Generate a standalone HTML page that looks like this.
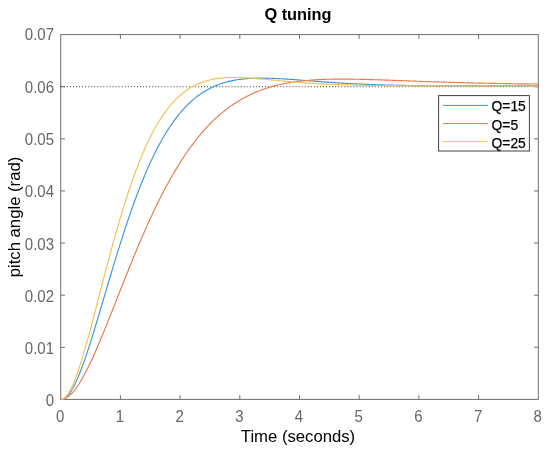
<!DOCTYPE html>
<html><head><meta charset="utf-8"><title>Q tuning</title>
<style>
html,body{margin:0;padding:0;background:#fff;}
body{width:550px;height:450px;overflow:hidden;}
svg{display:block;font-family:"Liberation Sans",sans-serif;}
.tk{font-size:15px;fill:#666666;}
.lb{font-size:16.7px;fill:#000;}
.lg{font-size:13.85px;fill:#000;stroke:#000;stroke-width:0.25px;}
</style></head><body>
<svg width="550" height="450" viewBox="0 0 550 450">
<rect x="0" y="0" width="550" height="450" fill="#ffffff"/>
<rect x="60.7" y="34.6" width="477.60" height="364.80" fill="none" stroke="#6e6e6e" stroke-width="1"/>
<path d="M120.40,399.4 v-4.3 M120.40,34.6 v4.3 M180.10,399.4 v-4.3 M180.10,34.6 v4.3 M239.80,399.4 v-4.3 M239.80,34.6 v4.3 M299.50,399.4 v-4.3 M299.50,34.6 v4.3 M359.20,399.4 v-4.3 M359.20,34.6 v4.3 M418.90,399.4 v-4.3 M418.90,34.6 v4.3 M478.60,399.4 v-4.3 M478.60,34.6 v4.3 M60.7,347.29 h4.3 M538.3,347.29 h-4.3 M60.7,295.17 h4.3 M538.3,295.17 h-4.3 M60.7,243.06 h4.3 M538.3,243.06 h-4.3 M60.7,190.94 h4.3 M538.3,190.94 h-4.3 M60.7,138.83 h4.3 M538.3,138.83 h-4.3 M60.7,86.71 h4.3 M538.3,86.71 h-4.3" stroke="#6e6e6e" stroke-width="1" fill="none"/>
<line x1="60.7" y1="86.71" x2="538.3" y2="86.71" stroke="#3a3a3a" stroke-width="1" stroke-dasharray="1 2.05"/>
<clipPath id="c"><rect x="60.2" y="34.1" width="478.59999999999997" height="365.79999999999995"/></clipPath>
<g fill="none" stroke-width="1.15" stroke-linejoin="round" clip-path="url(#c)">
<path d="M60.70,399.40 L61.89,399.35 L63.09,399.08 L64.28,398.57 L65.48,397.80 L66.67,396.79 L67.86,395.54 L69.06,394.09 L70.25,392.42 L71.45,390.56 L72.64,388.52 L73.83,386.30 L75.03,383.92 L76.22,381.38 L77.42,378.70 L78.61,375.89 L79.80,372.95 L81.00,369.89 L82.19,366.72 L83.39,363.45 L84.58,360.08 L85.77,356.63 L86.97,353.10 L88.16,349.49 L89.36,345.82 L90.55,342.09 L91.74,338.30 L92.94,334.47 L94.13,330.59 L95.33,326.68 L96.52,322.73 L97.71,318.76 L98.91,314.77 L100.10,310.75 L101.30,306.73 L102.49,302.69 L103.68,298.65 L104.88,294.61 L106.07,290.57 L107.27,286.53 L108.46,282.51 L109.65,278.49 L110.85,274.49 L112.04,270.51 L113.24,266.55 L114.43,262.61 L115.62,258.69 L116.82,254.80 L118.01,250.94 L119.21,247.12 L120.40,243.32 L121.59,239.57 L122.79,235.84 L123.98,232.16 L125.18,228.52 L126.37,224.92 L127.56,221.35 L128.76,217.84 L129.95,214.37 L131.15,210.94 L132.34,207.56 L133.53,204.22 L134.73,200.94 L135.92,197.70 L137.12,194.51 L138.31,191.37 L139.50,188.28 L140.70,185.24 L141.89,182.26 L143.09,179.32 L144.28,176.43 L145.47,173.60 L146.67,170.82 L147.86,168.09 L149.06,165.41 L150.25,162.78 L151.44,160.20 L152.64,157.68 L153.83,155.20 L155.03,152.78 L156.22,150.40 L157.41,148.08 L158.61,145.81 L159.80,143.59 L161.00,141.41 L162.19,139.29 L163.38,137.21 L164.58,135.19 L165.77,133.21 L166.97,131.28 L168.16,129.39 L169.35,127.55 L170.55,125.76 L171.74,124.01 L172.94,122.31 L174.13,120.65 L175.32,119.04 L176.52,117.46 L177.71,115.93 L178.91,114.45 L180.10,113.00 L181.29,111.59 L182.49,110.23 L183.68,108.90 L184.88,107.61 L186.07,106.36 L187.26,105.15 L188.46,103.98 L189.65,102.84 L190.85,101.73 L192.04,100.66 L193.23,99.63 L194.43,98.63 L195.62,97.66 L196.82,96.72 L198.01,95.82 L199.20,94.94 L200.40,94.10 L201.59,93.29 L202.79,92.50 L203.98,91.75 L205.17,91.02 L206.37,90.32 L207.56,89.64 L208.76,88.99 L209.95,88.37 L211.14,87.77 L212.34,87.20 L213.53,86.65 L214.73,86.12 L215.92,85.61 L217.11,85.13 L218.31,84.67 L219.50,84.22 L220.70,83.80 L221.89,83.40 L223.08,83.02 L224.28,82.65 L225.47,82.31 L226.67,81.98 L227.86,81.67 L229.05,81.37 L230.25,81.09 L231.44,80.83 L232.64,80.58 L233.83,80.35 L235.02,80.13 L236.22,79.93 L237.41,79.73 L238.61,79.55 L239.80,79.39 L240.99,79.23 L242.19,79.09 L243.38,78.96 L244.58,78.84 L245.77,78.73 L246.96,78.63 L248.16,78.54 L249.35,78.46 L250.55,78.39 L251.74,78.33 L252.93,78.27 L254.13,78.23 L255.32,78.19 L256.52,78.16 L257.71,78.14 L258.90,78.12 L260.10,78.11 L261.29,78.11 L262.49,78.11 L263.68,78.12 L264.87,78.13 L266.07,78.15 L267.26,78.18 L268.46,78.21 L269.65,78.24 L270.84,78.28 L272.04,78.32 L273.23,78.37 L274.43,78.42 L275.62,78.47 L276.81,78.53 L278.01,78.59 L279.20,78.65 L280.40,78.72 L281.59,78.79 L282.78,78.86 L283.98,78.93 L285.17,79.01 L286.37,79.08 L287.56,79.16 L288.75,79.25 L289.95,79.33 L291.14,79.41 L292.34,79.50 L293.53,79.58 L294.72,79.67 L295.92,79.76 L297.11,79.85 L298.31,79.94 L299.50,80.03 L300.69,80.12 L301.89,80.21 L303.08,80.30 L304.28,80.40 L305.47,80.49 L306.66,80.58 L307.86,80.67 L309.05,80.77 L310.25,80.86 L311.44,80.95 L312.63,81.04 L313.83,81.13 L315.02,81.23 L316.22,81.32 L317.41,81.41 L318.60,81.50 L319.80,81.59 L320.99,81.67 L322.19,81.76 L323.38,81.85 L324.57,81.94 L325.77,82.02 L326.96,82.11 L328.16,82.19 L329.35,82.27 L330.54,82.36 L331.74,82.44 L332.93,82.52 L334.13,82.60 L335.32,82.67 L336.51,82.75 L337.71,82.83 L338.90,82.90 L340.10,82.98 L341.29,83.05 L342.48,83.12 L343.68,83.19 L344.87,83.26 L346.07,83.33 L347.26,83.40 L348.45,83.47 L349.65,83.53 L350.84,83.60 L352.04,83.66 L353.23,83.72 L354.42,83.78 L355.62,83.84 L356.81,83.90 L358.01,83.96 L359.20,84.02 L360.39,84.07 L361.59,84.13 L362.78,84.18 L363.98,84.23 L365.17,84.28 L366.36,84.33 L367.56,84.38 L368.75,84.43 L369.95,84.48 L371.14,84.52 L372.33,84.57 L373.53,84.61 L374.72,84.65 L375.92,84.70 L377.11,84.74 L378.30,84.78 L379.50,84.82 L380.69,84.85 L381.89,84.89 L383.08,84.93 L384.27,84.96 L385.47,85.00 L386.66,85.03 L387.86,85.06 L389.05,85.09 L390.24,85.12 L391.44,85.15 L392.63,85.18 L393.83,85.21 L395.02,85.24 L396.21,85.26 L397.41,85.29 L398.60,85.32 L399.80,85.34 L400.99,85.36 L402.18,85.39 L403.38,85.41 L404.57,85.43 L405.77,85.45 L406.96,85.47 L408.15,85.49 L409.35,85.51 L410.54,85.53 L411.74,85.54 L412.93,85.56 L414.12,85.58 L415.32,85.59 L416.51,85.61 L417.71,85.62 L418.90,85.64 L420.09,85.65 L421.29,85.66 L422.48,85.68 L423.68,85.69 L424.87,85.70 L426.06,85.71 L427.26,85.72 L428.45,85.73 L429.65,85.74 L430.84,85.75 L432.03,85.76 L433.23,85.77 L434.42,85.78 L435.62,85.79 L436.81,85.79 L438.00,85.80 L439.20,85.81 L440.39,85.81 L441.59,85.82 L442.78,85.83 L443.97,85.83 L445.17,85.84 L446.36,85.84 L447.56,85.85 L448.75,85.85 L449.94,85.86 L451.14,85.86 L452.33,85.86 L453.53,85.87 L454.72,85.87 L455.91,85.87 L457.11,85.87 L458.30,85.88 L459.50,85.88 L460.69,85.88 L461.88,85.88 L463.08,85.89 L464.27,85.89 L465.47,85.89 L466.66,85.89 L467.85,85.89 L469.05,85.89 L470.24,85.89 L471.44,85.89 L472.63,85.89 L473.82,85.89 L475.02,85.89 L476.21,85.89 L477.41,85.89 L478.60,85.89 L479.79,85.89 L480.99,85.89 L482.18,85.89 L483.38,85.89 L484.57,85.89 L485.76,85.89 L486.96,85.89 L488.15,85.89 L489.35,85.89 L490.54,85.89 L491.73,85.89 L492.93,85.89 L494.12,85.89 L495.32,85.88 L496.51,85.88 L497.70,85.88 L498.90,85.88 L500.09,85.88 L501.29,85.88 L502.48,85.88 L503.67,85.88 L504.87,85.87 L506.06,85.87 L507.26,85.87 L508.45,85.87 L509.64,85.87 L510.84,85.87 L512.03,85.87 L513.23,85.86 L514.42,85.86 L515.61,85.86 L516.81,85.86 L518.00,85.86 L519.20,85.86 L520.39,85.85 L521.58,85.85 L522.78,85.85 L523.97,85.85 L525.17,85.85 L526.36,85.85 L527.55,85.84 L528.75,85.84 L529.94,85.84 L531.14,85.84 L532.33,85.84 L533.52,85.84 L534.72,85.84 L535.91,85.83 L537.11,85.83 L538.30,85.83" stroke="#3A96DB"/>
<path d="M60.70,399.40 L61.89,399.35 L63.09,399.16 L64.28,398.81 L65.48,398.31 L66.67,397.67 L67.86,396.89 L69.06,395.97 L70.25,394.93 L71.45,393.77 L72.64,392.49 L73.83,391.10 L75.03,389.60 L76.22,388.00 L77.42,386.30 L78.61,384.51 L79.80,382.62 L81.00,380.66 L82.19,378.61 L83.39,376.48 L84.58,374.29 L85.77,372.02 L86.97,369.69 L88.16,367.29 L89.36,364.84 L90.55,362.34 L91.74,359.78 L92.94,357.17 L94.13,354.52 L95.33,351.83 L96.52,349.10 L97.71,346.33 L98.91,343.52 L100.10,340.69 L101.30,337.83 L102.49,334.94 L103.68,332.03 L104.88,329.10 L106.07,326.14 L107.27,323.18 L108.46,320.19 L109.65,317.20 L110.85,314.19 L112.04,311.18 L113.24,308.16 L114.43,305.14 L115.62,302.11 L116.82,299.08 L118.01,296.05 L119.21,293.02 L120.40,290.00 L121.59,286.98 L122.79,283.96 L123.98,280.95 L125.18,277.96 L126.37,274.97 L127.56,271.99 L128.76,269.03 L129.95,266.07 L131.15,263.14 L132.34,260.21 L133.53,257.31 L134.73,254.42 L135.92,251.54 L137.12,248.69 L138.31,245.86 L139.50,243.04 L140.70,240.25 L141.89,237.48 L143.09,234.73 L144.28,232.01 L145.47,229.30 L146.67,226.63 L147.86,223.97 L149.06,221.34 L150.25,218.74 L151.44,216.16 L152.64,213.61 L153.83,211.08 L155.03,208.58 L156.22,206.11 L157.41,203.66 L158.61,201.25 L159.80,198.86 L161.00,196.49 L162.19,194.16 L163.38,191.85 L164.58,189.58 L165.77,187.33 L166.97,185.11 L168.16,182.92 L169.35,180.76 L170.55,178.62 L171.74,176.52 L172.94,174.44 L174.13,172.40 L175.32,170.38 L176.52,168.39 L177.71,166.43 L178.91,164.50 L180.10,162.60 L181.29,160.73 L182.49,158.88 L183.68,157.06 L184.88,155.28 L186.07,153.52 L187.26,151.78 L188.46,150.08 L189.65,148.41 L190.85,146.76 L192.04,145.14 L193.23,143.54 L194.43,141.98 L195.62,140.44 L196.82,138.92 L198.01,137.44 L199.20,135.98 L200.40,134.54 L201.59,133.13 L202.79,131.75 L203.98,130.39 L205.17,129.06 L206.37,127.76 L207.56,126.47 L208.76,125.22 L209.95,123.98 L211.14,122.77 L212.34,121.59 L213.53,120.42 L214.73,119.29 L215.92,118.17 L217.11,117.07 L218.31,116.00 L219.50,114.95 L220.70,113.93 L221.89,112.92 L223.08,111.94 L224.28,110.97 L225.47,110.03 L226.67,109.11 L227.86,108.20 L229.05,107.32 L230.25,106.46 L231.44,105.62 L232.64,104.79 L233.83,103.99 L235.02,103.20 L236.22,102.43 L237.41,101.68 L238.61,100.95 L239.80,100.23 L240.99,99.53 L242.19,98.85 L243.38,98.19 L244.58,97.54 L245.77,96.91 L246.96,96.29 L248.16,95.69 L249.35,95.10 L250.55,94.53 L251.74,93.98 L252.93,93.44 L254.13,92.91 L255.32,92.40 L256.52,91.90 L257.71,91.41 L258.90,90.94 L260.10,90.48 L261.29,90.04 L262.49,89.60 L263.68,89.18 L264.87,88.77 L266.07,88.38 L267.26,87.99 L268.46,87.62 L269.65,87.26 L270.84,86.90 L272.04,86.56 L273.23,86.23 L274.43,85.91 L275.62,85.60 L276.81,85.30 L278.01,85.01 L279.20,84.73 L280.40,84.46 L281.59,84.20 L282.78,83.94 L283.98,83.70 L285.17,83.46 L286.37,83.24 L287.56,83.02 L288.75,82.81 L289.95,82.60 L291.14,82.41 L292.34,82.22 L293.53,82.04 L294.72,81.86 L295.92,81.69 L297.11,81.53 L298.31,81.38 L299.50,81.23 L300.69,81.09 L301.89,80.96 L303.08,80.83 L304.28,80.71 L305.47,80.59 L306.66,80.48 L307.86,80.37 L309.05,80.27 L310.25,80.17 L311.44,80.08 L312.63,80.00 L313.83,79.92 L315.02,79.84 L316.22,79.77 L317.41,79.70 L318.60,79.64 L319.80,79.58 L320.99,79.52 L322.19,79.47 L323.38,79.42 L324.57,79.38 L325.77,79.34 L326.96,79.30 L328.16,79.27 L329.35,79.24 L330.54,79.21 L331.74,79.19 L332.93,79.17 L334.13,79.15 L335.32,79.13 L336.51,79.12 L337.71,79.11 L338.90,79.10 L340.10,79.10 L341.29,79.10 L342.48,79.10 L343.68,79.10 L344.87,79.10 L346.07,79.11 L347.26,79.12 L348.45,79.13 L349.65,79.14 L350.84,79.15 L352.04,79.17 L353.23,79.18 L354.42,79.20 L355.62,79.22 L356.81,79.24 L358.01,79.27 L359.20,79.29 L360.39,79.32 L361.59,79.34 L362.78,79.37 L363.98,79.40 L365.17,79.43 L366.36,79.46 L367.56,79.49 L368.75,79.53 L369.95,79.56 L371.14,79.59 L372.33,79.63 L373.53,79.67 L374.72,79.70 L375.92,79.74 L377.11,79.78 L378.30,79.82 L379.50,79.86 L380.69,79.90 L381.89,79.94 L383.08,79.98 L384.27,80.02 L385.47,80.06 L386.66,80.10 L387.86,80.15 L389.05,80.19 L390.24,80.23 L391.44,80.27 L392.63,80.32 L393.83,80.36 L395.02,80.41 L396.21,80.45 L397.41,80.49 L398.60,80.54 L399.80,80.58 L400.99,80.63 L402.18,80.67 L403.38,80.71 L404.57,80.76 L405.77,80.80 L406.96,80.85 L408.15,80.89 L409.35,80.94 L410.54,80.98 L411.74,81.02 L412.93,81.07 L414.12,81.11 L415.32,81.16 L416.51,81.20 L417.71,81.24 L418.90,81.28 L420.09,81.33 L421.29,81.37 L422.48,81.41 L423.68,81.45 L424.87,81.50 L426.06,81.54 L427.26,81.58 L428.45,81.62 L429.65,81.66 L430.84,81.70 L432.03,81.74 L433.23,81.78 L434.42,81.82 L435.62,81.86 L436.81,81.90 L438.00,81.94 L439.20,81.98 L440.39,82.02 L441.59,82.06 L442.78,82.09 L443.97,82.13 L445.17,82.17 L446.36,82.21 L447.56,82.24 L448.75,82.28 L449.94,82.31 L451.14,82.35 L452.33,82.38 L453.53,82.42 L454.72,82.45 L455.91,82.49 L457.11,82.52 L458.30,82.55 L459.50,82.59 L460.69,82.62 L461.88,82.65 L463.08,82.68 L464.27,82.72 L465.47,82.75 L466.66,82.78 L467.85,82.81 L469.05,82.84 L470.24,82.87 L471.44,82.90 L472.63,82.93 L473.82,82.96 L475.02,82.99 L476.21,83.01 L477.41,83.04 L478.60,83.07 L479.79,83.10 L480.99,83.12 L482.18,83.15 L483.38,83.18 L484.57,83.20 L485.76,83.23 L486.96,83.25 L488.15,83.28 L489.35,83.30 L490.54,83.33 L491.73,83.35 L492.93,83.37 L494.12,83.40 L495.32,83.42 L496.51,83.44 L497.70,83.47 L498.90,83.49 L500.09,83.51 L501.29,83.53 L502.48,83.55 L503.67,83.57 L504.87,83.59 L506.06,83.62 L507.26,83.64 L508.45,83.66 L509.64,83.68 L510.84,83.69 L512.03,83.71 L513.23,83.73 L514.42,83.75 L515.61,83.77 L516.81,83.79 L518.00,83.81 L519.20,83.82 L520.39,83.84 L521.58,83.86 L522.78,83.87 L523.97,83.89 L525.17,83.91 L526.36,83.92 L527.55,83.94 L528.75,83.96 L529.94,83.97 L531.14,83.99 L532.33,84.00 L533.52,84.02 L534.72,84.03 L535.91,84.05 L537.11,84.06 L538.30,84.08" stroke="#E57C4E"/>
<path d="M60.70,399.40 L61.89,399.30 L63.09,398.89 L64.28,398.15 L65.48,397.11 L66.67,395.77 L67.86,394.15 L69.06,392.27 L70.25,390.14 L71.45,387.78 L72.64,385.21 L73.83,382.43 L75.03,379.46 L76.22,376.32 L77.42,373.01 L78.61,369.54 L79.80,365.94 L81.00,362.21 L82.19,358.35 L83.39,354.39 L84.58,350.33 L85.77,346.18 L86.97,341.95 L88.16,337.65 L89.36,333.28 L90.55,328.86 L91.74,324.39 L92.94,319.88 L94.13,315.34 L95.33,310.77 L96.52,306.18 L97.71,301.58 L98.91,296.97 L100.10,292.35 L101.30,287.74 L102.49,283.14 L103.68,278.55 L104.88,273.97 L106.07,269.42 L107.27,264.89 L108.46,260.39 L109.65,255.92 L110.85,251.49 L112.04,247.10 L113.24,242.75 L114.43,238.44 L115.62,234.18 L116.82,229.97 L118.01,225.81 L119.21,221.70 L120.40,217.65 L121.59,213.66 L122.79,209.72 L123.98,205.85 L125.18,202.03 L126.37,198.28 L127.56,194.59 L128.76,190.97 L129.95,187.41 L131.15,183.92 L132.34,180.49 L133.53,177.13 L134.73,173.84 L135.92,170.61 L137.12,167.45 L138.31,164.36 L139.50,161.34 L140.70,158.38 L141.89,155.50 L143.09,152.68 L144.28,149.92 L145.47,147.23 L146.67,144.61 L147.86,142.06 L149.06,139.57 L150.25,137.14 L151.44,134.78 L152.64,132.48 L153.83,130.25 L155.03,128.08 L156.22,125.97 L157.41,123.92 L158.61,121.93 L159.80,120.00 L161.00,118.12 L162.19,116.31 L163.38,114.55 L164.58,112.85 L165.77,111.20 L166.97,109.61 L168.16,108.06 L169.35,106.57 L170.55,105.14 L171.74,103.75 L172.94,102.41 L174.13,101.12 L175.32,99.87 L176.52,98.67 L177.71,97.52 L178.91,96.41 L180.10,95.34 L181.29,94.32 L182.49,93.34 L183.68,92.39 L184.88,91.49 L186.07,90.62 L187.26,89.79 L188.46,89.00 L189.65,88.24 L190.85,87.52 L192.04,86.83 L193.23,86.18 L194.43,85.55 L195.62,84.96 L196.82,84.39 L198.01,83.86 L199.20,83.35 L200.40,82.87 L201.59,82.41 L202.79,81.99 L203.98,81.58 L205.17,81.20 L206.37,80.85 L207.56,80.51 L208.76,80.20 L209.95,79.91 L211.14,79.64 L212.34,79.39 L213.53,79.15 L214.73,78.94 L215.92,78.74 L217.11,78.56 L218.31,78.40 L219.50,78.25 L220.70,78.11 L221.89,77.99 L223.08,77.89 L224.28,77.80 L225.47,77.72 L226.67,77.65 L227.86,77.59 L229.05,77.55 L230.25,77.51 L231.44,77.49 L232.64,77.47 L233.83,77.46 L235.02,77.47 L236.22,77.48 L237.41,77.50 L238.61,77.52 L239.80,77.55 L240.99,77.59 L242.19,77.64 L243.38,77.69 L244.58,77.75 L245.77,77.81 L246.96,77.88 L248.16,77.95 L249.35,78.03 L250.55,78.11 L251.74,78.19 L252.93,78.28 L254.13,78.37 L255.32,78.46 L256.52,78.56 L257.71,78.66 L258.90,78.76 L260.10,78.86 L261.29,78.96 L262.49,79.07 L263.68,79.18 L264.87,79.29 L266.07,79.40 L267.26,79.51 L268.46,79.62 L269.65,79.73 L270.84,79.84 L272.04,79.95 L273.23,80.07 L274.43,80.18 L275.62,80.29 L276.81,80.40 L278.01,80.52 L279.20,80.63 L280.40,80.74 L281.59,80.85 L282.78,80.96 L283.98,81.07 L285.17,81.18 L286.37,81.28 L287.56,81.39 L288.75,81.49 L289.95,81.60 L291.14,81.70 L292.34,81.80 L293.53,81.90 L294.72,82.00 L295.92,82.10 L297.11,82.20 L298.31,82.29 L299.50,82.39 L300.69,82.48 L301.89,82.57 L303.08,82.66 L304.28,82.75 L305.47,82.83 L306.66,82.92 L307.86,83.00 L309.05,83.08 L310.25,83.16 L311.44,83.24 L312.63,83.32 L313.83,83.39 L315.02,83.47 L316.22,83.54 L317.41,83.61 L318.60,83.68 L319.80,83.74 L320.99,83.81 L322.19,83.88 L323.38,83.94 L324.57,84.00 L325.77,84.06 L326.96,84.12 L328.16,84.18 L329.35,84.23 L330.54,84.29 L331.74,84.34 L332.93,84.39 L334.13,84.44 L335.32,84.49 L336.51,84.54 L337.71,84.58 L338.90,84.63 L340.10,84.67 L341.29,84.71 L342.48,84.75 L343.68,84.79 L344.87,84.83 L346.07,84.87 L347.26,84.91 L348.45,84.94 L349.65,84.98 L350.84,85.01 L352.04,85.04 L353.23,85.07 L354.42,85.10 L355.62,85.13 L356.81,85.16 L358.01,85.19 L359.20,85.21 L360.39,85.24 L361.59,85.26 L362.78,85.29 L363.98,85.31 L365.17,85.33 L366.36,85.35 L367.56,85.38 L368.75,85.40 L369.95,85.41 L371.14,85.43 L372.33,85.45 L373.53,85.47 L374.72,85.48 L375.92,85.50 L377.11,85.52 L378.30,85.53 L379.50,85.54 L380.69,85.56 L381.89,85.57 L383.08,85.58 L384.27,85.60 L385.47,85.61 L386.66,85.62 L387.86,85.63 L389.05,85.64 L390.24,85.65 L391.44,85.66 L392.63,85.67 L393.83,85.68 L395.02,85.69 L396.21,85.69 L397.41,85.70 L398.60,85.71 L399.80,85.72 L400.99,85.72 L402.18,85.73 L403.38,85.74 L404.57,85.74 L405.77,85.75 L406.96,85.75 L408.15,85.76 L409.35,85.76 L410.54,85.77 L411.74,85.77 L412.93,85.78 L414.12,85.78 L415.32,85.79 L416.51,85.79 L417.71,85.80 L418.90,85.80 L420.09,85.80 L421.29,85.81 L422.48,85.81 L423.68,85.81 L424.87,85.82 L426.06,85.82 L427.26,85.82 L428.45,85.83 L429.65,85.83 L430.84,85.83 L432.03,85.83 L433.23,85.84 L434.42,85.84 L435.62,85.84 L436.81,85.84 L438.00,85.85 L439.20,85.85 L440.39,85.85 L441.59,85.85 L442.78,85.86 L443.97,85.86 L445.17,85.86 L446.36,85.86 L447.56,85.87 L448.75,85.87 L449.94,85.87 L451.14,85.87 L452.33,85.88 L453.53,85.88 L454.72,85.88 L455.91,85.88 L457.11,85.88 L458.30,85.89 L459.50,85.89 L460.69,85.89 L461.88,85.89 L463.08,85.90 L464.27,85.90 L465.47,85.90 L466.66,85.90 L467.85,85.90 L469.05,85.91 L470.24,85.91 L471.44,85.91 L472.63,85.91 L473.82,85.92 L475.02,85.92 L476.21,85.92 L477.41,85.92 L478.60,85.93 L479.79,85.93 L480.99,85.93 L482.18,85.93 L483.38,85.94 L484.57,85.94 L485.76,85.94 L486.96,85.94 L488.15,85.95 L489.35,85.95 L490.54,85.95 L491.73,85.96 L492.93,85.96 L494.12,85.96 L495.32,85.96 L496.51,85.97 L497.70,85.97 L498.90,85.97 L500.09,85.98 L501.29,85.98 L502.48,85.98 L503.67,85.98 L504.87,85.99 L506.06,85.99 L507.26,85.99 L508.45,86.00 L509.64,86.00 L510.84,86.00 L512.03,86.01 L513.23,86.01 L514.42,86.01 L515.61,86.02 L516.81,86.02 L518.00,86.02 L519.20,86.03 L520.39,86.03 L521.58,86.03 L522.78,86.04 L523.97,86.04 L525.17,86.04 L526.36,86.05 L527.55,86.05 L528.75,86.05 L529.94,86.06 L531.14,86.06 L532.33,86.06 L533.52,86.07 L534.72,86.07 L535.91,86.07 L537.11,86.08 L538.30,86.08" stroke="#F3C251"/>
</g>
<g class="tk" text-anchor="middle" transform="scale(1,1.05)">
<text x="60.20" y="401.81">0</text>
<text x="119.90" y="401.81">1</text>
<text x="179.60" y="401.81">2</text>
<text x="239.30" y="401.81">3</text>
<text x="299.00" y="401.81">4</text>
<text x="358.70" y="401.81">5</text>
<text x="418.40" y="401.81">6</text>
<text x="478.10" y="401.81">7</text>
<text x="537.80" y="401.81">8</text>
</g>
<g class="tk" text-anchor="end" transform="scale(1,1.05)">
<text x="54.0" y="386.95">0</text>
<text x="54.0" y="337.24">0.01</text>
<text x="54.0" y="287.71">0.02</text>
<text x="54.0" y="238.10">0.03</text>
<text x="54.0" y="187.62">0.04</text>
<text x="54.0" y="137.90">0.05</text>
<text x="54.0" y="88.10">0.06</text>
<text x="54.0" y="38.51">0.07</text>
</g>
<text class="lb" text-anchor="middle" transform="translate(298,441.5) scale(1,1.04)">Time (seconds)</text>
<text class="lb" text-anchor="middle" transform="translate(20.3,217.00) rotate(-90)">pitch angle (rad)</text>
<text text-anchor="middle" x="298" y="19.6" font-size="16.35px" font-weight="bold" fill="#000">Q tuning</text>
<rect x="438.6" y="95.6" width="90.80" height="55.40" fill="#fff" stroke="#404040" stroke-width="1"/>
<line x1="443" y1="105.4" x2="488" y2="105.4" stroke="#3A96DB" stroke-width="1"/>
<text class="lg" x="491.55" y="111.40">Q=15</text>
<line x1="443" y1="123.6" x2="488" y2="123.6" stroke="#E57C4E" stroke-width="1"/>
<text class="lg" x="491.55" y="129.60">Q=5</text>
<line x1="443" y1="141.6" x2="488" y2="141.6" stroke="#F3C251" stroke-width="1"/>
<text class="lg" x="491.55" y="147.60">Q=25</text>
</svg></body></html>
